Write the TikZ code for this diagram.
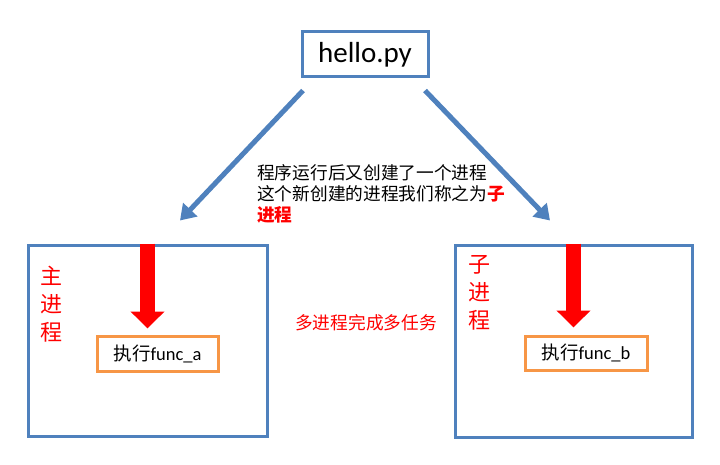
\documentclass[tikz,border=0pt]{standalone}
\usepackage{fontspec}
\setmainfont{Carlito}
\newfontfamily\cjk{Noto Sans CJK SC}
\usetikzlibrary{arrows.meta, positioning}
\definecolor{procblue}{HTML}{4F81BD}
\definecolor{funcorange}{HTML}{F79646}
\definecolor{hotred}{HTML}{FF0000}

\tikzset{
  filebox/.style={draw=procblue, line width=3pt, minimum width=126pt, minimum height=45pt, inner sep=0pt, font=\fontsize{29}{32}\selectfont},
  procbox/.style={draw=procblue, line width=3pt, minimum width=239pt, minimum height=191pt, inner sep=0pt},
  funcbox/.style={draw=funcorange, line width=3pt, minimum width=121pt, minimum height=35pt, inner sep=0pt, font=\fontsize{18.5}{22}\selectfont},
  forkarrow/.style={draw=procblue, line width=5pt, -{Triangle[width=19pt,length=15pt]}},
  runarrow/.style={draw=hotred, line width=15pt, -{Triangle[width=33pt,length=17pt]}},
  proclabel/.style={text=hotred, align=center, font=\cjk\fontsize{22}{28}\selectfont, inner sep=0pt},
  note/.style={align=left, inner sep=0pt, font=\cjk\fontsize{17.7}{21}\selectfont}
}

\begin{document}
\begin{tikzpicture}[x=1pt, y=-1pt]
  \useasboundingbox (0,0) rectangle (720,465);
  % File
  \node[filebox] (hello) at (365,54.5) {hello.py};
  % Processes
  \node[procbox] (main) at (147.5,340.5) {};
  \node[procbox, minimum width=237pt, minimum height=192pt] (sub) at (573.5,341) {};
  \node[proclabel, anchor=north] (mainlbl) at (51,266) {主\\进\\程};
  \node[proclabel, anchor=north] (sublbl) at (479,255) {子\\进\\程};
  % Functions
  \node[funcbox] (fa) at (157.5,353.5) {{\cjk 执行}func\_a};
  \node[funcbox, minimum width=122pt, minimum height=34pt] (fb) at (586,353) {{\cjk 执行}func\_b};
  % Fork
  \draw[forkarrow] ([shift={(-62,12)}]hello.south) -- ([shift={(32.5,-23)}]main.north);
  \draw[forkarrow] ([shift={(60,12)}]hello.south) -- ([shift={(-23.5,-23)}]sub.north);
  \node[note, anchor=north west] (fork) at (257,164) {程序运行后又创建了一个进程\\这个新创建的进程我们称之为{\bfseries\color{hotred}子}\\{\bfseries\color{hotred}进程}};
  % Run
  \coordinate (ta) at ([yshift=6pt]fa.north);
  \coordinate (tb) at ([yshift=7pt]fb.north);
  \draw[runarrow] (main.north) -- (ta -| main.north);
  \draw[runarrow] (sub.north) -- (tb -| sub.north);
  \node[text=hotred, inner sep=0pt, font=\cjk\fontsize{17.7}{21}\selectfont] (multi) at (366,323) {多进程完成多任务};
\end{tikzpicture}
\end{document}
